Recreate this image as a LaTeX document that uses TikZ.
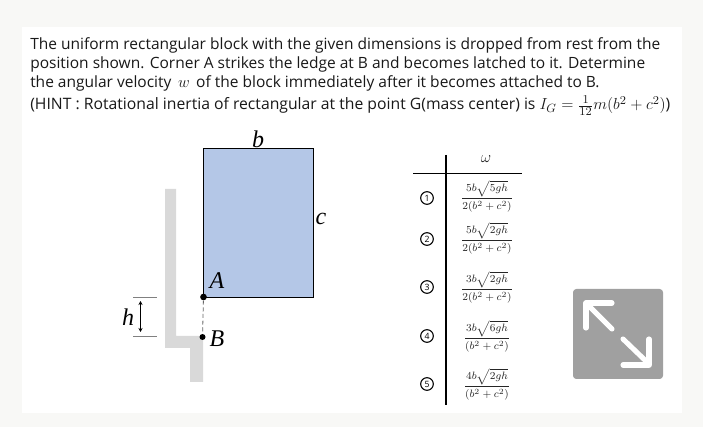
\documentclass[tikz,border=0pt]{standalone}
\usepackage{fontspec}
\setmainfont{Open Sans}
\newfontfamily\serifit[Ligatures=TeX]{Liberation Serif}
\usetikzlibrary{arrows.meta}
\definecolor{pagebg}{HTML}{F8F8F6}
\definecolor{blockblue}{HTML}{B4C7E7}
\definecolor{ledgegray}{HTML}{D9D9D9}
\definecolor{icongray}{HTML}{A0A0A0}
\definecolor{tabletext}{HTML}{262626}
\tikzset{
  textline/.style={anchor=base west,inner sep=0pt,font=\fontsize{11.63}{13}\selectfont,text=black!90},
  dimlabel/.style={inner sep=0pt,font=\fontsize{18}{20}\selectfont\serifit\itshape},
  optcircle/.style={circle,draw=black,line width=0.8pt,minimum size=9.5pt,inner sep=0pt,font=\fontsize{6.5}{7}\selectfont},
  answer/.style={inner sep=0pt,text=tabletext,font=\fontsize{8}{9}\selectfont},
  dot/.style={circle,fill=black,inner sep=0pt,minimum size=5pt},
  iconarrow/.style={draw=white,line width=3.8pt,line cap=round,line join=round},
}
\begin{document}
\begin{tikzpicture}[x=0.75pt,y=-0.75pt]
\useasboundingbox (0,0) rectangle (703,427);
\fill[pagebg] (0,0) rectangle (703,427);
\fill[white] (22,27) rectangle (682,413);
% text
\node[textline] (l1) at (30,50) {The uniform rectangular block with the given dimensions is dropped from rest from the};
\node[textline] (l2) at (30,69) {position shown. Corner A strikes the ledge at B and becomes latched to it. Determine};
\node[textline] (l3) at (30,88) {the angular velocity \,\fontsize{12.6}{13}\selectfont$w$\fontsize{11.63}{13}\selectfont\, of the block immediately after it becomes attached to B.};
\node[textline,font=\fontsize{11.8}{13}\selectfont] (l4) at (30,110) {(HINT : Rotational inertia of rectangular at the point G(mass center) is \fontsize{12.6}{13}\selectfont$I_G=\frac{1}{12}m(b^2+c^2)$\fontsize{11.8}{13}\selectfont)};
% ledge
\fill[ledgegray] (165,189) -- (176,189) -- (176,336) -- (203,336) -- (203,382) -- (190,382) -- (190,348) -- (165,348) -- cycle;
% block
\node[draw=black,line width=0.9pt,fill=blockblue,minimum width=82.5pt,minimum height=111.75pt,inner sep=0pt,anchor=north west] (block) at (203,148) {};
\node[dimlabel] (lb) at (258,139) {b};
\node[dimlabel] (lc) at (321,219) {c};
\node[dimlabel] (la) at (217,281) {A};
\node[dimlabel] (lB) at (217,339) {B};
\node[dimlabel] (lh) at (128,317) {h};
\node[dot] (A) at (203.5,297) {};
\node[dot,minimum size=4.5pt] (B) at (202.5,337) {};
\draw[densely dashed,draw=black!60,line width=0.6pt] (A) -- (B);
% h dimension
\coordinate (h1a) at (133,297); \coordinate (h1b) at (157,297);
\coordinate (h2a) at (133,336); \coordinate (h2b) at (157,336);
\coordinate (h3a) at (140.5,301); \coordinate (h3b) at (140.5,332);
\draw[black!50,line width=0.6pt] (h1a) -- (h1b);
\draw[black!50,line width=0.6pt] (h2a) -- (h2b);
\draw[{Stealth[length=3pt,width=3pt]}-{Stealth[length=3pt,width=3pt]},line width=0.5pt] (h3a) -- (h3b);
% table
\coordinate (v1) at (446,155); \coordinate (v2) at (446,405);
\coordinate (t1) at (413,173.5); \coordinate (t2) at (522,173.5);
\draw[line width=1.1pt] (v1) -- (v2);
\draw[line width=1.1pt] (t1) -- (t2);
\node[answer,font=\fontsize{12}{14}\selectfont] (w) at (486,159) {$\omega$};
\node[optcircle] (c1) at (427,198) {1};
\node[optcircle] (c2) at (427,239) {2};
\node[optcircle] (c3) at (427,287) {3};
\node[optcircle] (c4) at (427,336) {4};
\node[optcircle] (c5) at (427,384) {5};
\node[answer] (a1) at (487,196) {$\displaystyle\frac{5b\sqrt{5gh}}{2(b^2+c^2)}$};
\node[answer] (a2) at (487,238) {$\displaystyle\frac{5b\sqrt{2gh}}{2(b^2+c^2)}$};
\node[answer] (a3) at (487,287) {$\displaystyle\frac{3b\sqrt{2gh}}{2(b^2+c^2)}$};
\node[answer] (a4) at (487,336) {$\displaystyle\frac{3b\sqrt{6gh}}{(b^2+c^2)}$};
\node[answer] (a5) at (487,384) {$\displaystyle\frac{4b\sqrt{2gh}}{(b^2+c^2)}$};
% icon
\fill[icongray,rounded corners=2.5pt] (573,289) rectangle (663,379);
\draw[iconarrow] (612,303) -- (586,303) -- (586,328);
\draw[iconarrow] (587,304) -- (612,329);
\draw[iconarrow] (623,339) -- (649,364);
\draw[iconarrow] (649,339) -- (649,365) -- (623,365);
\end{tikzpicture}
\end{document}
